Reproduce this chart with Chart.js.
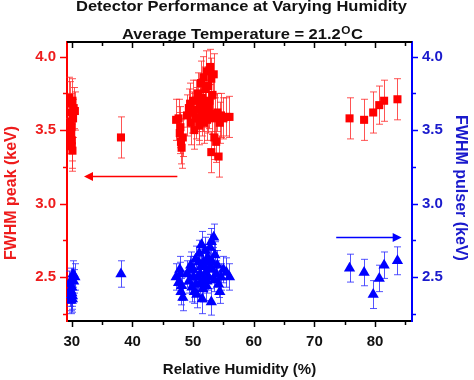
<!DOCTYPE html>
<html><head><meta charset="utf-8">
<script src="https://cdn.jsdelivr.net/npm/chart.js@4.4.1/dist/chart.umd.min.js"></script>
<style>html,body{margin:0;padding:0;background:#fff}</style>
</head><body>
<canvas id="c" width="474" height="380"></canvas>
<script>
// ---- data ----
const humidity = [
  29.6, 29.7, 29.8, 29.8, 29.9, 29.9, 30.0, 30.0, 30.1, 30.2, 30.3, 30.5, 30.1,
  38.1,
  47.2, 47.6, 47.8, 48.0, 48.1, 48.3, 47.9,
  49.0, 49.3, 49.6, 49.8, 50.0, 50.2, 50.4, 50.6, 50.8, 51.0,
  51.1, 51.3, 51.4, 51.5, 51.7, 51.8, 52.0, 52.1, 52.2, 52.4,
  52.5, 52.7, 52.8, 53.0, 53.0, 53.2, 53.4, 53.5, 53.6, 53.8,
  54.0, 54.2, 54.4, 54.6, 55.0, 55.5, 56.0,
  49.5, 50.1, 50.5, 50.9, 51.2, 51.6, 51.9, 52.3, 52.6, 53.1,
  75.8, 78.2, 79.7, 80.7, 81.5, 83.7
];
const peakFwhm = [
  3.72, 3.68, 3.62, 3.56, 3.52, 3.47, 3.43, 3.39, 3.36, 3.58, 3.65, 3.63, 3.70,
  3.45,
  3.57, 3.58, 3.48, 3.42, 3.38, 3.45, 3.52,
  3.60, 3.65, 3.55, 3.62, 3.70, 3.50, 3.58, 3.64, 3.75, 3.53,
  3.68, 3.82, 3.60, 3.72, 3.86, 3.55, 3.78, 3.65, 3.90, 3.62,
  3.80, 3.70, 3.93, 3.85, 3.35, 3.74, 3.88, 3.45, 3.58, 3.42,
  3.62, 3.32, 3.55, 3.60, 3.58, 3.59, 3.59,
  3.68, 3.62, 3.70, 3.58, 3.66, 3.63, 3.69, 3.57, 3.66, 3.61,
  3.58, 3.57, 3.62, 3.67, 3.70, 3.71
];
const peakErr = [
  0.14, 0.15, 0.13, 0.14, 0.14, 0.13, 0.14, 0.15, 0.14, 0.13, 0.14, 0.13, 0.15,
  0.14,
  0.14, 0.13, 0.14, 0.15, 0.14, 0.13, 0.14,
  0.14, 0.13, 0.15, 0.14, 0.14, 0.13, 0.14, 0.15, 0.14, 0.13,
  0.14, 0.15, 0.14, 0.13, 0.14, 0.14, 0.15, 0.13, 0.14, 0.14,
  0.13, 0.14, 0.12, 0.14, 0.14, 0.13, 0.14, 0.15, 0.14, 0.14,
  0.13, 0.14, 0.14, 0.15, 0.14, 0.13, 0.14,
  0.14, 0.13, 0.14, 0.15, 0.14, 0.14, 0.13, 0.14, 0.15, 0.14,
  0.14, 0.14, 0.14, 0.13, 0.14, 0.14
];
const pulserFwhm = [
  2.45, 2.38, 2.36, 2.41, 2.48, 2.34, 2.39, 2.43, 2.37, 2.52, 2.47, 2.50, 2.35,
  2.52,
  2.50, 2.46, 2.55, 2.40, 2.44, 2.36, 2.52,
  2.52, 2.47, 2.58, 2.43, 2.55, 2.40, 2.62, 2.38, 2.50, 2.66,
  2.45, 2.57, 2.72, 2.35, 2.60, 2.48, 2.68, 2.53, 2.44, 2.63,
  2.50, 2.56, 2.70, 2.33, 2.74, 2.60, 2.77, 2.48, 2.65, 2.52,
  2.58, 2.45, 2.40, 2.50, 2.55, 2.53, 2.50,
  2.55, 2.50, 2.45, 2.60, 2.52, 2.42, 2.57, 2.47, 2.60, 2.55,
  2.56, 2.53, 2.38, 2.49, 2.58, 2.61
];
const pulserErr = [
  0.09, 0.08, 0.09, 0.09, 0.08, 0.09, 0.09, 0.08, 0.09, 0.09, 0.08, 0.09, 0.09,
  0.09,
  0.09, 0.08, 0.09, 0.09, 0.10, 0.09, 0.08,
  0.09, 0.08, 0.09, 0.10, 0.09, 0.08, 0.09, 0.09, 0.10, 0.09,
  0.08, 0.09, 0.09, 0.10, 0.09, 0.08, 0.09, 0.09, 0.10, 0.09,
  0.09, 0.08, 0.09, 0.09, 0.09, 0.10, 0.09, 0.08, 0.09, 0.09,
  0.10, 0.09, 0.08, 0.09, 0.09, 0.10, 0.09,
  0.09, 0.09, 0.08, 0.09, 0.10, 0.09, 0.09, 0.08, 0.09, 0.09,
  0.095, 0.09, 0.095, 0.09, 0.09, 0.095
];
const xTickLabels = ['30', '40', '50', '60', '70', '80'];
const yTickLabels = ['2.5', '3.0', '3.5', '4.0'];
const chartTitle = 'Detector Performance at Varying Humidity';
const subtitleParts = ['Average Temperature = 21.2', 'O', 'C'];
const xTitle = 'Relative Humidity (%)';
const yLeftTitle = 'FWHM peak (keV)';
const yRightTitle = 'FWHM pulser (keV)';
// arrows: [x start, x end, y value]
const redArrow = [47.4, 32.0, 3.19];
const blueArrow = [73.6, 84.4, 2.77];

// ---- rendering ----
const FONT = '"Liberation Sans", Arial, sans-serif';
const RED = '#ff0000', BLUE = '#0000ff';
const RED_TXT = '#ee1c1c', BLUE_TXT = '#1a1acc';

function isMajor(v) { return Math.abs(v * 2 - Math.round(v * 2)) < 1e-6; }

const errorBars = {
  id: 'errorBars',
  beforeDatasetsDraw(chart) {
    const ctx = chart.ctx, x = chart.scales.x;
    const sets = [
      { vals: peakFwhm, errs: peakErr, scale: chart.scales.y, color: 'rgba(255,40,40,0.8)' },
      { vals: pulserFwhm, errs: pulserErr, scale: chart.scales.y2, color: 'rgba(40,40,255,0.8)' }
    ];
    ctx.save();
    ctx.lineWidth = 1;
    sets.forEach(s => {
      ctx.strokeStyle = s.color;
      humidity.forEach((h, i) => {
        const px = Math.round(x.getPixelForValue(h)) + 0.5;
        const y1 = s.scale.getPixelForValue(s.vals[i] + s.errs[i]);
        const y2 = s.scale.getPixelForValue(s.vals[i] - s.errs[i]);
        ctx.beginPath();
        ctx.moveTo(px, y1); ctx.lineTo(px, y2);
        ctx.moveTo(px - 3.5, y1); ctx.lineTo(px + 3.5, y1);
        ctx.moveTo(px - 3.5, y2); ctx.lineTo(px + 3.5, y2);
        ctx.stroke();
      });
    });
    ctx.restore();
  }
};

function arrow(ctx, x1, x2, y, color) {
  ctx.strokeStyle = color; ctx.fillStyle = color; ctx.lineWidth = 1.5;
  const dir = Math.sign(x2 - x1);
  ctx.beginPath(); ctx.moveTo(x1, y); ctx.lineTo(x2 - dir * 6, y); ctx.stroke();
  ctx.beginPath(); ctx.moveTo(x2, y); ctx.lineTo(x2 - dir * 9, y - 4.5); ctx.lineTo(x2 - dir * 9, y + 4.5); ctx.closePath(); ctx.fill();
}

function stretchedText(ctx, text, cx, baseline, font, sx) {
  ctx.save();
  ctx.font = font; ctx.textAlign = 'center'; ctx.textBaseline = 'alphabetic';
  ctx.translate(cx, baseline); ctx.scale(sx, 1);
  ctx.fillText(text, 0, 0);
  ctx.restore();
}

const decor = {
  id: 'decor',
  afterDraw(chart) {
    const { ctx, chartArea: a, scales: { x, y, y2 } } = chart;
    ctx.save();
    // top frame line
    ctx.strokeStyle = '#000'; ctx.lineWidth = 2;
    ctx.beginPath(); ctx.moveTo(a.left, a.top); ctx.lineTo(a.right, a.top); ctx.stroke();
    // tick marks
    ctx.lineWidth = 1.5;
    x.ticks.forEach(t => {
      const px = Math.round(x.getPixelForValue(t.value)) + 0.5;
      const len = t.label !== '' ? 6 : 4;
      ctx.beginPath();
      ctx.moveTo(px, a.bottom); ctx.lineTo(px, a.bottom + len);
      ctx.moveTo(px, a.top); ctx.lineTo(px, a.top + len);
      ctx.stroke();
    });
    ctx.strokeStyle = RED;
    y.ticks.forEach(t => {
      const py = Math.round(y.getPixelForValue(t.value)) + 0.5;
      const len = t.label !== '' ? 7 : 4;
      ctx.beginPath(); ctx.moveTo(a.left, py); ctx.lineTo(a.left - len, py); ctx.stroke();
    });
    ctx.strokeStyle = BLUE;
    y2.ticks.forEach(t => {
      const py = Math.round(y2.getPixelForValue(t.value)) + 0.5;
      const len = t.label !== '' ? 6 : 4;
      ctx.beginPath(); ctx.moveTo(a.right, py); ctx.lineTo(a.right + len, py); ctx.stroke();
    });
    // arrows
    arrow(ctx, x.getPixelForValue(redArrow[0]), x.getPixelForValue(redArrow[1]), Math.round(y.getPixelForValue(redArrow[2])) + 0.5, RED);
    arrow(ctx, x.getPixelForValue(blueArrow[0]), x.getPixelForValue(blueArrow[1]), Math.round(y2.getPixelForValue(blueArrow[2])) + 0.5, BLUE);
    // titles
    ctx.fillStyle = '#111';
    const f1 = 'bold 15px ' + FONT;
    ctx.font = f1;
    const tw = ctx.measureText(chartTitle).width;
    stretchedText(ctx, chartTitle, 241.5, 11, f1, 331 / tw);
    // subtitle with superscript O
    const fMain = 'bold 14px ' + FONT, fSup = 'bold 10px ' + FONT;
    ctx.font = fMain;
    const w0 = ctx.measureText(subtitleParts[0]).width;
    const w2 = ctx.measureText(subtitleParts[2]).width;
    ctx.font = fSup;
    const w1 = ctx.measureText(subtitleParts[1]).width + 1;
    const total = w0 + w1 + w2;
    const k = 241 / total;
    ctx.save();
    ctx.translate(242.5 - 241 / 2, 38.5);
    ctx.scale(k, 1);
    ctx.textAlign = 'left'; ctx.textBaseline = 'alphabetic';
    ctx.font = fMain; ctx.fillText(subtitleParts[0], 0, 0);
    ctx.font = fSup; ctx.fillText(subtitleParts[1], w0 + 0.5, -5);
    ctx.font = fMain; ctx.fillText(subtitleParts[2], w0 + w1, 0);
    ctx.restore();
    // y axis titles
    ctx.font = 'bold 16px ' + FONT;
    ctx.textAlign = 'center'; ctx.textBaseline = 'middle';
    ctx.save();
    ctx.translate(12, 193); ctx.rotate(-Math.PI / 2);
    ctx.fillStyle = RED_TXT; ctx.fillText(yLeftTitle, 0, 0);
    ctx.restore();
    ctx.save();
    ctx.translate(460, 188); ctx.rotate(Math.PI / 2);
    ctx.fillStyle = BLUE_TXT; ctx.fillText(yRightTitle, 0, 0);
    ctx.restore();
    ctx.restore();
  }
};

new Chart(document.getElementById('c'), {
  type: 'scatter',
  data: {
    datasets: [
      {
        label: 'FWHM peak',
        data: humidity.map((h, i) => ({ x: h, y: peakFwhm[i] })),
        yAxisID: 'y',
        pointStyle: 'rect', pointRadius: 5.7,
        backgroundColor: RED, borderColor: RED, borderWidth: 0
      },
      {
        label: 'FWHM pulser',
        data: humidity.map((h, i) => ({ x: h, y: pulserFwhm[i] })),
        yAxisID: 'y2',
        pointStyle: 'triangle', pointRadius: 6.5,
        backgroundColor: BLUE, borderColor: BLUE, borderWidth: 0
      }
    ]
  },
  options: {
    responsive: false, animation: false, devicePixelRatio: 1,
    layout: { padding: { top: 42, left: 0, right: 0, bottom: 0 } },
    plugins: { legend: { display: false }, tooltip: { enabled: false }, title: { display: false } },
    scales: {
      x: {
        type: 'linear', position: 'bottom', min: 29.2, max: 86.1,
        afterFit(s) { s.height = 59; },
        border: { display: true, color: '#000', width: 2 },
        grid: { display: false, drawTicks: true, tickLength: 6 },
        ticks: {
          stepSize: 5, includeBounds: false, autoSkip: false, maxRotation: 0, padding: 6,
          color: '#111', font: { family: FONT, size: 15, weight: 'bold' },
          callback: v => { const s = String(v); return xTickLabels.includes(s) ? s : ''; }
        },
        title: { display: true, text: xTitle, color: '#111', font: { family: FONT, size: 15, weight: 'bold' }, padding: { top: 0, bottom: 1 } }
      },
      y: {
        type: 'linear', position: 'left', min: 2.2, max: 4.1,
        afterFit(s) { s.width = 67; },
        border: { display: true, color: RED, width: 2 },
        grid: { display: false, drawTicks: true, tickLength: 7 },
        ticks: {
          stepSize: 0.25, includeBounds: false, autoSkip: false, padding: 4,
          color: RED_TXT, font: { family: FONT, size: 15, weight: 'bold' },
          callback: v => { const s = v.toFixed(1); return isMajor(v) && yTickLabels.includes(s) ? s : ''; }
        }
      },
      y2: {
        type: 'linear', position: 'right', min: 2.2, max: 4.1,
        afterFit(s) { s.width = 62; },
        border: { display: true, color: BLUE, width: 2 },
        grid: { display: false, drawTicks: true, tickLength: 6 },
        ticks: {
          stepSize: 0.25, includeBounds: false, autoSkip: false, padding: 4,
          color: BLUE_TXT, font: { family: FONT, size: 15, weight: 'bold' },
          callback: v => { const s = v.toFixed(1); return isMajor(v) && yTickLabels.includes(s) ? s : ''; }
        }
      }
    }
  },
  plugins: [errorBars, decor]
});
</script>
</body></html>
